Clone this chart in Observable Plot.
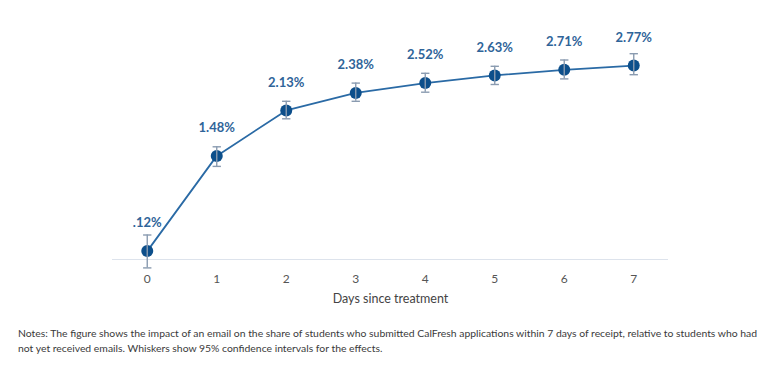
<!DOCTYPE html>
<html>
<head>
<meta charset="utf-8">
<script src="https://cdn.jsdelivr.net/npm/d3@7"></script>
<script src="https://cdn.jsdelivr.net/npm/@observablehq/plot@0.6"></script>
<style>
  html, body { margin: 0; padding: 0; background: #fff; }
  #notes { font-family: Lato, "Open Sans", sans-serif; font-size: 10.4px; color: #3a3a3a; line-height: 15px; margin: 9px 0 0 18px; width: 750px; white-space: nowrap; }
</style>
</head>
<body>
<div id="chart"></div>
<div id="notes">Notes: The figure shows the impact of an email on the share of students who submitted CalFresh applications within 7 days of receipt, relative to students who had<br>not yet received emails. Whiskers show 95% confidence intervals for the effects.</div>
<script>
const days = [0, 1, 2, 3, 4, 5, 6, 7];
const effects = [0.12, 1.48, 2.13, 2.38, 2.52, 2.63, 2.71, 2.77];
const lower = [-0.12, 1.33, 2.01, 2.26, 2.39, 2.50, 2.58, 2.64];
const upper = [0.35, 1.61, 2.26, 2.52, 2.66, 2.76, 2.85, 2.94];
const labels = [".12%", "1.48%", "2.13%", "2.38%", "2.52%", "2.63%", "2.71%", "2.77%"];
const xTicks = [0, 1, 2, 3, 4, 5, 6, 7];
const xTitle = ["Days since treatment"];

const data = days.map((d, i) => ({day: d, v: effects[i], lo: lower[i], hi: upper[i], label: labels[i]}));
const capHalf = 0.06;

const chart = Plot.plot({
  width: 768,
  height: 317,
  marginLeft: 112,
  marginRight: 100,
  marginTop: 49,
  marginBottom: 58,
  style: {fontFamily: "Lato, 'Open Sans', sans-serif", background: "#fff"},
  x: {domain: [-0.5, 7.5]},
  y: {domain: [0, 3], axis: null},
  marks: [
    Plot.axisX({ticks: xTicks, tickSize: 0, tickPadding: 15, fontSize: 12, fill: "#555", label: null}),
    Plot.text(xTitle, {frameAnchor: "bottom", dy: 43, fontSize: 12.5, fill: "#444"}),
    Plot.ruleY([0], {stroke: "#dde3ec", strokeWidth: 1.2}),
    Plot.line(data, {x: "day", y: "v", stroke: "#2a6aa5", strokeWidth: 1.8}),
    Plot.dot(data, {x: "day", y: "v", r: 6, fill: "#0d4f8b", stroke: "none"}),
    Plot.ruleX(data, {x: "day", y1: "lo", y2: "hi", stroke: "#8a9bb0", strokeWidth: 1.4}),
    Plot.link(data, {x1: d => d.day - capHalf, x2: d => d.day + capHalf, y1: "hi", y2: "hi", stroke: "#8a9bb0", strokeWidth: 1.4}),
    Plot.link(data, {x1: d => d.day - capHalf, x2: d => d.day + capHalf, y1: "lo", y2: "lo", stroke: "#8a9bb0", strokeWidth: 1.4}),
    Plot.text(data, {x: "day", y: "v", text: "label", dy: -28, fill: "#2f6499", fontWeight: "bold", fontSize: 13})
  ]
});
document.getElementById("chart").appendChild(chart);
</script>
</body>
</html>
